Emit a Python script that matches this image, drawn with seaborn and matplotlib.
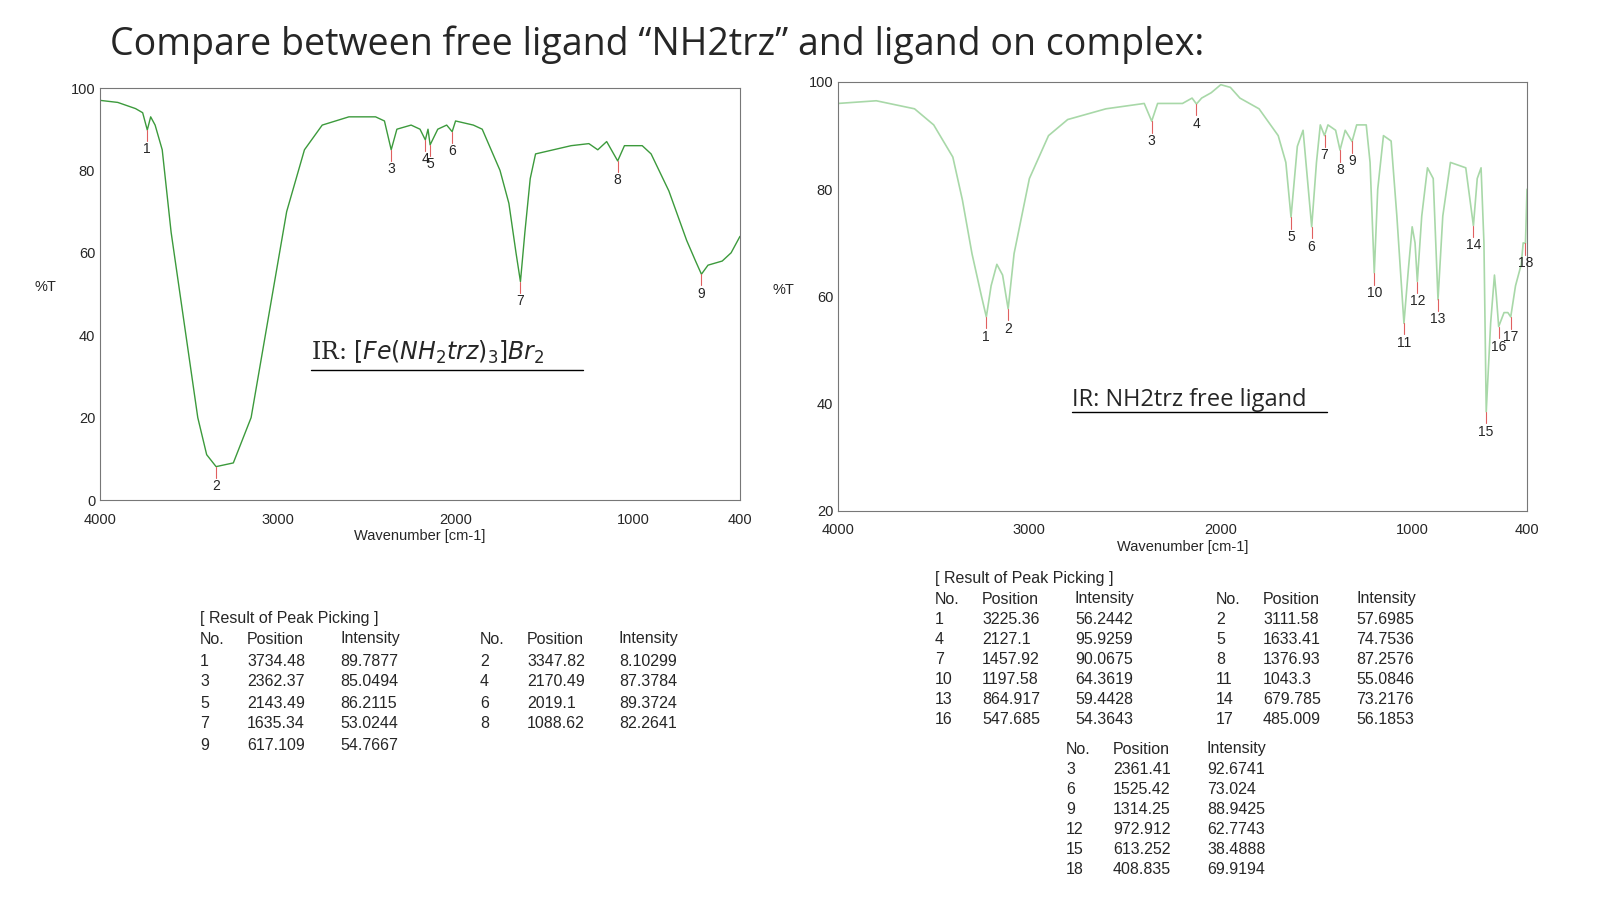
import matplotlib
matplotlib.use("Agg")
import matplotlib.pyplot as plt
import seaborn as sns
import pandas as pd

# ---- left spectrum: [Fe(NH2trz)3]Br2 ----
left_wn = [4000,3900,3800,3760,3734,3715,3690,3650,3600,3500,3450,3400,3347,3250,3150,3050,2950,2850,2750,2600,2450,2400,2362,2330,2250,2200,2170,2155,2143,2100,2050,2019,2000,1900,1850,1800,1750,1700,1660,1635,1610,1580,1550,1450,1350,1250,1200,1150,1088,1050,950,900,800,700,650,617,580,500,450,400]
left_t  = [97,96.5,95,94,89.8,93,91,85,65,35,20,11,8.1,9,20,45,70,85,91,93,93,92,85,90,91,90,87.4,90,86.2,90,91,89.4,92,91,90,85,80,72,60,53,65,78,84,85,86,86.5,85,87,82.3,86,86,84,75,63,58,54.8,57,58,60,64]
left_pk_no = [1,2,3,4,5,6,7,8,9]
left_pk_pos = [3734.48,3347.82,2362.37,2170.49,2143.49,2019.1,1635.34,1088.62,617.109]
left_pk_int = [89.7877,8.10299,85.0494,87.3784,86.2115,89.3724,53.0244,82.2641,54.7667]

# ---- right spectrum: NH2trz free ligand ----
right_wn = [4000,3800,3600,3500,3400,3350,3300,3250,3225,3200,3170,3140,3111,3080,3000,2900,2800,2600,2400,2361,2330,2200,2150,2127,2100,2050,2000,1950,1900,1800,1700,1660,1633,1600,1570,1525,1500,1480,1458,1440,1400,1377,1350,1314,1290,1240,1220,1198,1180,1150,1110,1080,1043,1020,1000,985,973,950,920,890,865,840,800,720,680,660,640,625,613,590,570,560,548,520,500,485,460,430,420,408,400]
right_t  = [96,96.5,95,92,86,78,68,60,56.2,62,66,64,57.7,68,82,90,93,95,96,92.7,96,96,97,95.9,97,98,99.5,99,97,95,90,85,74.8,88,91,73,85,92,90,92,91,87.3,91,88.9,92,92,85,64.4,80,90,89,75,55,65,73,70,62.8,75,84,82,59.4,75,85,84,73.2,82,84,70,38.5,55,64,60,54.4,57,57,56.2,62,66,70,69.9,80]
right_pk_no = list(range(1,19))
right_pk_pos = [3225.36,3111.58,2361.41,2127.1,1633.41,1525.42,1457.92,1376.93,1314.25,1197.58,1043.3,972.912,864.917,679.785,613.252,547.685,485.009,408.835]
right_pk_int = [56.2442,57.6985,92.6741,95.9259,74.7536,73.024,90.0675,87.2576,88.9425,64.3619,55.0846,62.7743,59.4428,73.2176,38.4888,54.3643,56.1853,69.9194]

W, H = 1600, 902
sns.set_style("white")
plt.rcParams['font.family'] = ['Liberation Sans', 'DejaVu Sans']
fig = plt.figure(figsize=(16, 9.02), dpi=100)

def box(x0, y0, x1, y1):
    return [x0 / W, 1 - y1 / H, (x1 - x0) / W, (y1 - y0) / H]

def style(ax, ymin, ymax, yt):
    ax.set_xlim(4000, 400)
    ax.set_ylim(ymin, ymax)
    ax.set_xticks([4000, 3000, 2000, 1000, 400])
    ax.set_xticklabels(['4000', '3000', '2000', '1000', '400'])
    ax.set_yticks(yt)
    ax.minorticks_on()
    ax.tick_params(which='both', direction='in', length=4, labelsize=10.5, color='#555555')
    ax.tick_params(which='minor', length=2)
    ax.tick_params(axis='x', pad=9)
    for s in ax.spines.values():
        s.set_color('#777777'); s.set_linewidth(0.8)
    ax.set_xlabel('Wavenumber [cm-1]', fontsize=10.5, labelpad=2)
    ax.set_ylabel('%T', fontsize=10.5, rotation=0, labelpad=18)

def peaks(ax, pos, inten, nos, dy):
    for n, p, v in zip(nos, pos, inten):
        ax.plot([p, p], [v - dy * 0.9, v], color='#e06060', lw=0.8)
        ax.text(p, v - dy, str(n), ha='center', va='top', fontsize=10)

axl = fig.add_axes(box(100, 88, 740, 500))
sns.lineplot(x=left_wn, y=left_t, sort=False, ax=axl, color='#3c9a3c', lw=1)
style(axl, 0, 100, [0, 20, 40, 60, 80, 100])
peaks(axl, left_pk_pos, left_pk_int, left_pk_no, 3)
axl.text(0.33, 0.34, r'IR: $[Fe(NH_2trz)_3]Br_2$', transform=axl.transAxes, fontsize=17, family='DejaVu Serif')
axl.plot([0.33, 0.755], [0.315, 0.315], transform=axl.transAxes, color='black', lw=1)

axr = fig.add_axes(box(838, 82, 1527, 511))
sns.lineplot(x=right_wn, y=right_t, sort=False, ax=axr, color='#a8d8a8', lw=1.2)
style(axr, 20, 100, [20, 40, 60, 80, 100])
peaks(axr, right_pk_pos, right_pk_int, right_pk_no, 2.4)
axr.text(0.34, 0.245, 'IR: NH2trz free ligand', transform=axr.transAxes, fontsize=17, family='Open Sans')
axr.plot([0.34, 0.71], [0.23, 0.23], transform=axr.transAxes, color='black', lw=1)

fig.text(110 / W, 1 - 45 / H, 'Compare between free ligand \u201cNH2trz\u201d and ligand on complex:',
         fontsize=27, family='Open Sans', va='center')

def ft(x, y, s):
    fig.text(x / W, 1 - y / H, s, fontsize=11.5, va='center', ha='left')

def fmt(v):
    return f'{v:.6g}'

# left table
ft(200, 618, '[ Result of Peak Picking ]')
for cx, lab in zip([200, 247, 340, 480, 527, 619], ['No.', 'Position', 'Intensity'] * 2):
    ft(cx, 639, lab)
lrows = [0, 2, 4, 6, 8]
for i, k in enumerate(lrows):
    y = 661 + i * 21
    ft(200, y, str(left_pk_no[k])); ft(247, y, fmt(left_pk_pos[k])); ft(340, y, fmt(left_pk_int[k]))
    if k + 1 < len(left_pk_no):
        j = k + 1
        ft(480, y, str(left_pk_no[j])); ft(527, y, fmt(left_pk_pos[j])); ft(619, y, fmt(left_pk_int[j]))

# right table
ft(935, 578, '[ Result of Peak Picking ]')
for cx, lab in zip([935, 982, 1075, 1216, 1263, 1356], ['No.', 'Position', 'Intensity'] * 2):
    ft(cx, 599, lab)
a_idx = [0, 3, 6, 9, 12, 15]
for i, k in enumerate(a_idx):
    y = 619 + i * 20
    ft(935, y, str(right_pk_no[k])); ft(982, y, fmt(right_pk_pos[k])); ft(1075, y, fmt(right_pk_int[k]))
    j = k + 1
    ft(1216, y, str(right_pk_no[j])); ft(1263, y, fmt(right_pk_pos[j])); ft(1356, y, fmt(right_pk_int[j]))
for cx, lab in zip([1066, 1113, 1207], ['No.', 'Position', 'Intensity']):
    ft(cx, 749, lab)
for i, k in enumerate([2, 5, 8, 11, 14, 17]):
    y = 769 + i * 20
    ft(1066, y, str(right_pk_no[k])); ft(1113, y, fmt(right_pk_pos[k])); ft(1207, y, fmt(right_pk_int[k]))

fig.savefig('out.png', dpi=100)
